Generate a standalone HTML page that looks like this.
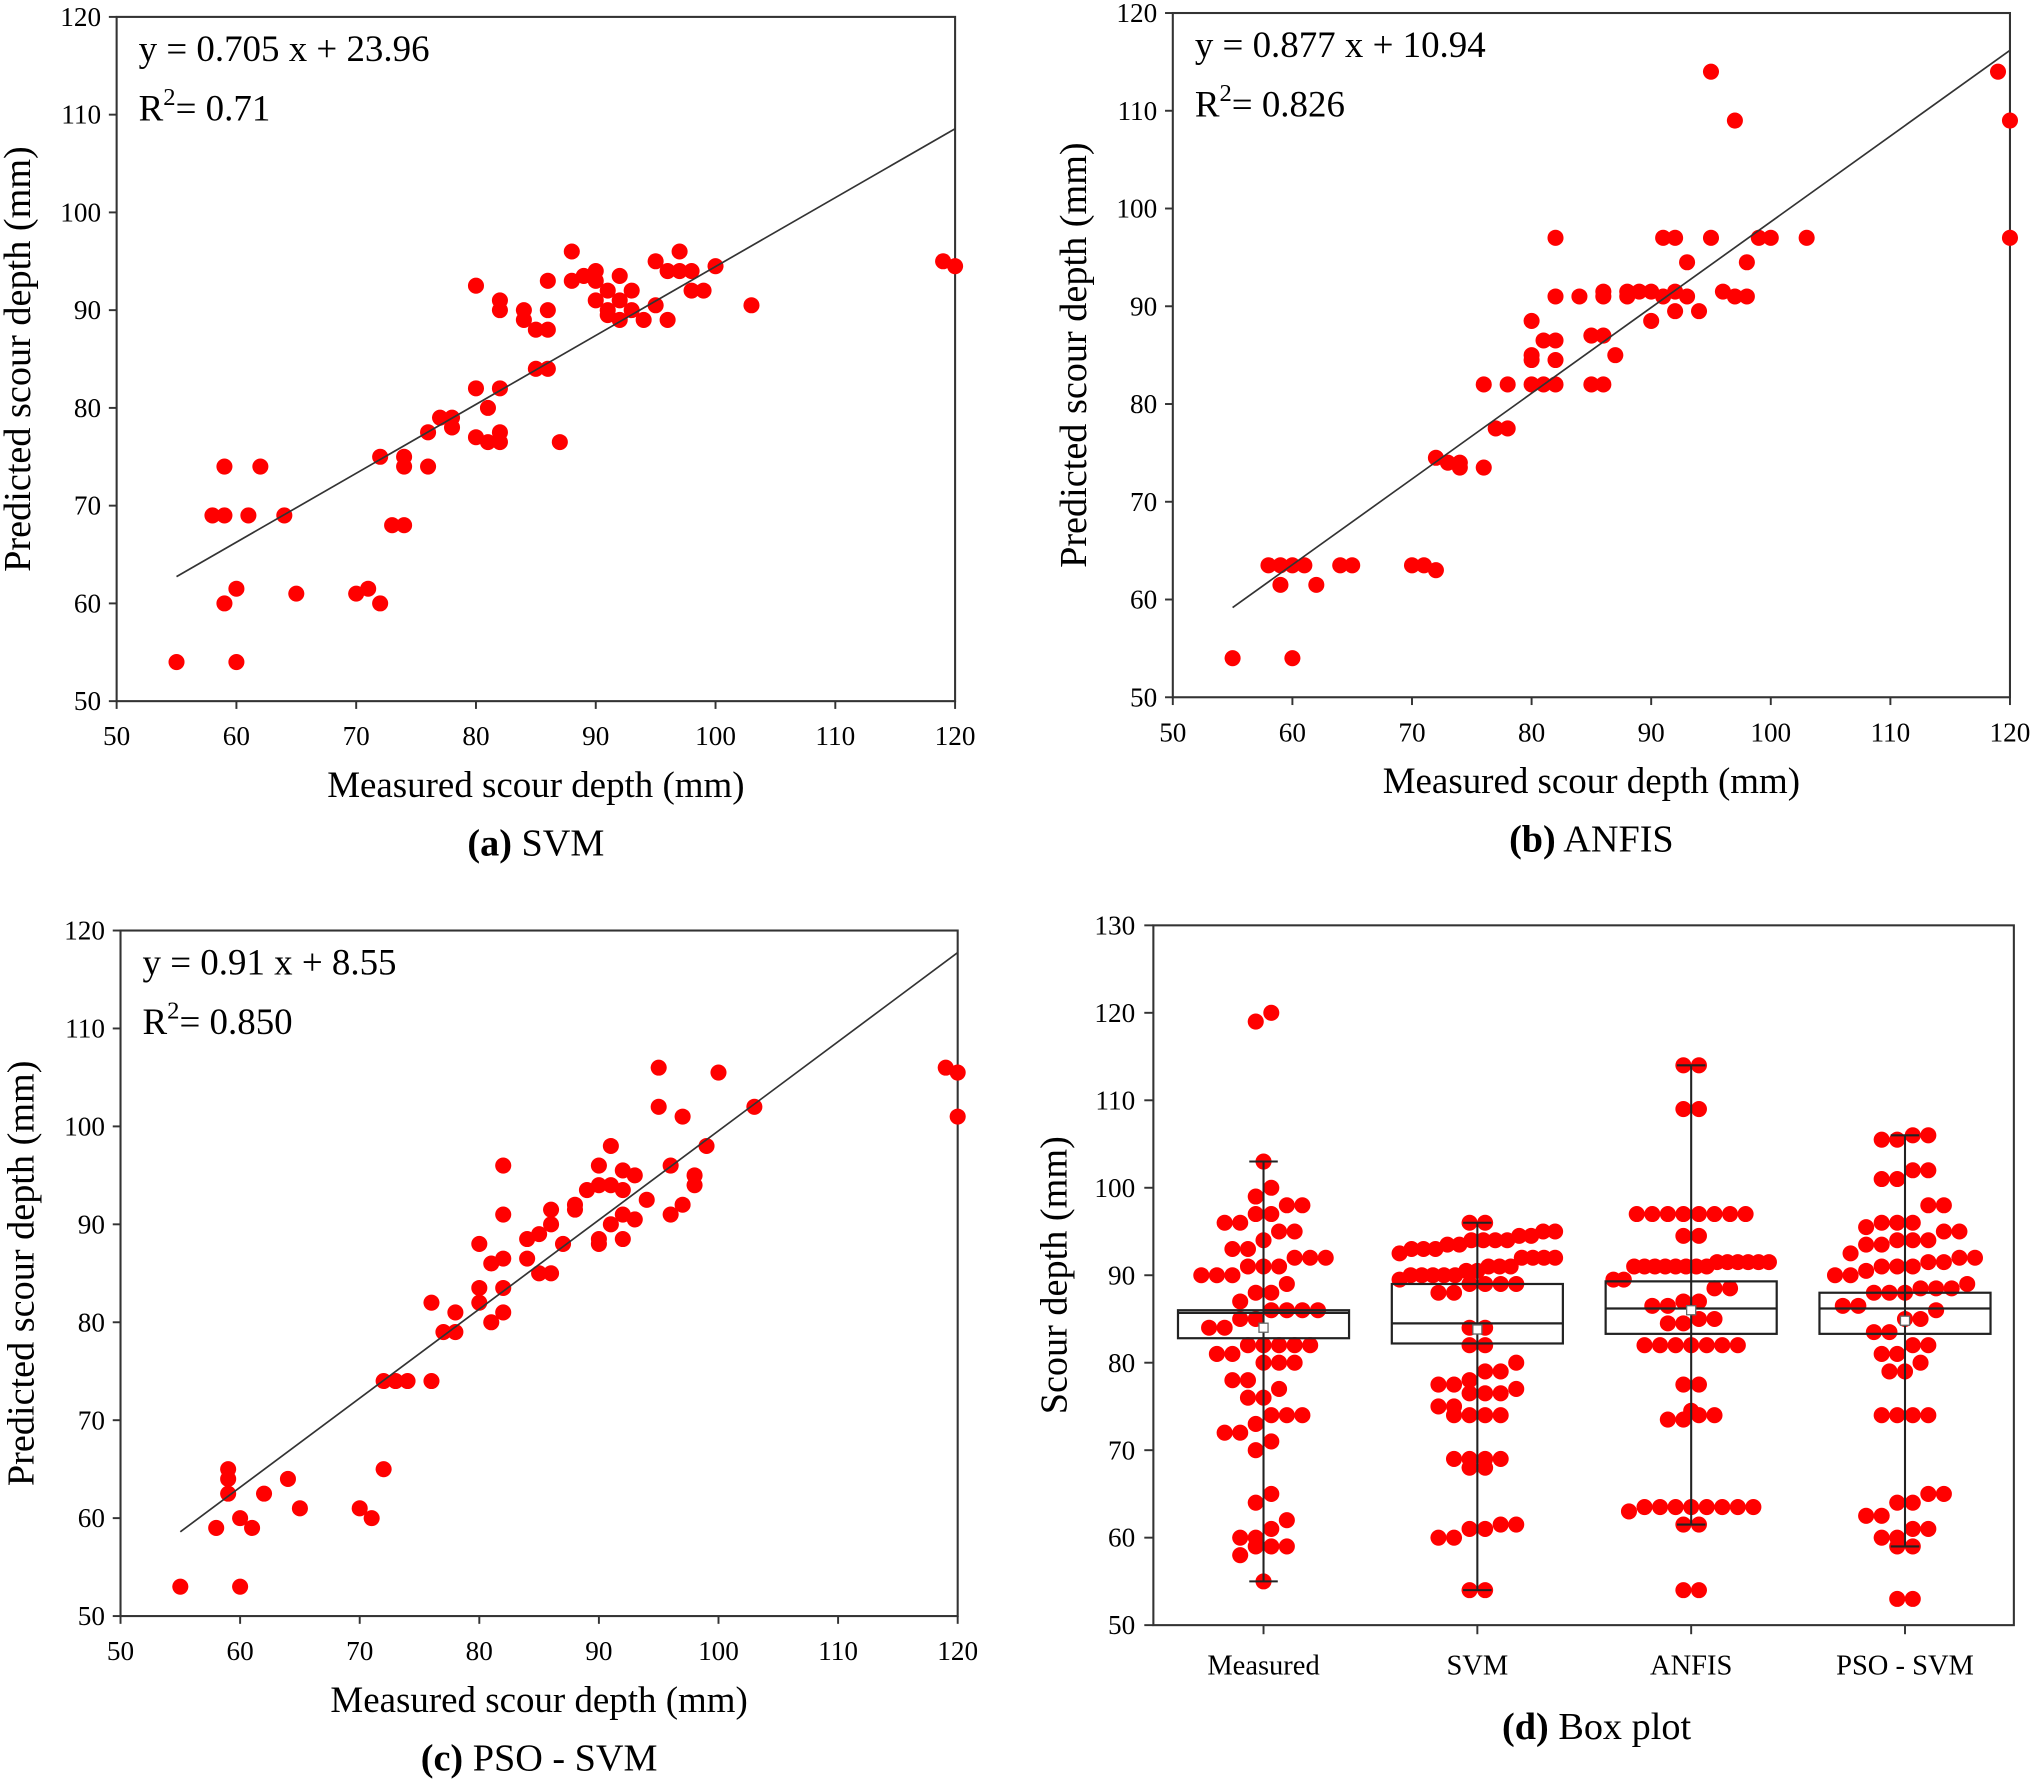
<!DOCTYPE html>
<html><head><meta charset="utf-8"><style>
html,body{margin:0;padding:0;background:#fff}
svg{display:block;font-family:"Liberation Serif",serif}
</style></head><body>
<svg id="s" xmlns="http://www.w3.org/2000/svg" width="2032" height="1782" viewBox="0 0 1568 1375"></svg>
<script>
const S=document.getElementById('s');let h='';
const R=6.2,RED='#ff0000';
function panel(o){
 const {x0,x1,y0,y1}=o;
 const X=v=>x0+(v-50)/70*(x1-x0), Y=v=>y1-(v-50)/70*(y1-y0);
 h+=`<rect x="${x0}" y="${y0}" width="${x1-x0}" height="${y1-y0}" fill="none" stroke="#333" stroke-width="1.6"/>`;
 for(let v=50;v<=120;v+=10){
  h+=`<line x1="${X(v)}" y1="${y1}" x2="${X(v)}" y2="${y1+6}" stroke="#333" stroke-width="1.5"/>`;
  h+=`<text x="${X(v)}" y="${y1+34}" font-size="21" text-anchor="middle">${v}</text>`;
  h+=`<line x1="${x0-6}" y1="${Y(v)}" x2="${x0}" y2="${Y(v)}" stroke="#333" stroke-width="1.5"/>`;
  h+=`<text x="${x0-12}" y="${Y(v)+7}" font-size="21" text-anchor="end">${v}</text>`;
 }
 for(const p of o.pts) h+=`<circle cx="${X(p[0])}" cy="${Y(p[1])}" r="${R}" fill="${RED}"/>`;
 const xe=Math.min(120,(120-o.b)/o.a);
 h+=`<line x1="${X(55)}" y1="${Y(o.a*55+o.b)}" x2="${X(xe)}" y2="${Y(o.a*xe+o.b)}" stroke="#333" stroke-width="1.3"/>`;
 h+=`<text x="${x0+17}" y="${y0+34}" font-size="28.5">${o.eq}</text>`;
 h+=`<text x="${x0+17}" y="${y0+80}" font-size="28.5">R<tspan dy="-12" font-size="19">2</tspan><tspan dy="12">= ${o.r2}</tspan></text>`;
 h+=`<text x="${(x0+x1)/2}" y="${y1+74}" font-size="28.5" text-anchor="middle">Measured scour depth (mm)</text>`;
 h+=`<text transform="translate(${x0-67},${(y0+y1)/2}) rotate(-90)" font-size="29.5" text-anchor="middle">Predicted scour depth (mm)</text>`;
 h+=`<text x="${(x0+x1)/2}" y="${y1+119}" font-size="29.5" text-anchor="middle"><tspan font-weight="bold">(${o.l})</tspan> ${o.cap}</text>`;
}
const A=[[55,54],[58,69],[59,74],[59,69],[59,60],[60,61.5],[60,54],[61,69],[62,74],[64,69],[65,61],[70,61],[71,61.5],[72,60],[72,75],[73,68],[74,68],[74,75],[74,74],[76,74],[76,77.5],[77,79],[78,79],[78,78],[80,82],[80,92.5],[80,77],[81,76.5],[81,80],[82,76.5],[82,77.5],[82,82],[82,90],[82,91],[84,90],[84,89],[85,88],[85,84],[86,84],[86,88],[86,90],[86,93],[87,76.5],[88,93],[88,96],[89,93.5],[90,94],[90,93],[90,91],[91,92],[91,89.5],[91,90],[92,93.5],[92,89],[92,91],[93,92],[93,90],[94,89],[95,90.5],[95,95],[96,94],[96,89],[97,94],[97,96],[98,94],[98,92],[99,92],[100,94.5],[103,90.5],[119,95],[120,94.5]];
const B=[[55,54],[58,63.5],[59,63.5],[59,61.5],[60,63.5],[60,54],[61,63.5],[62,61.5],[64,63.5],[65,63.5],[70,63.5],[71,63.5],[72,63],[72,74.5],[73,74],[74,74],[74,73.5],[76,73.5],[76,82],[77,77.5],[78,77.5],[78,82],[80,82],[80,84.5],[80,85],[80,88.5],[81,82],[81,86.5],[82,82],[82,84.5],[82,86.5],[82,91],[82,97],[84,91],[85,87],[85,82],[86,82],[86,87],[86,91],[86,91.5],[87,85],[88,91],[88,91.5],[89,91.5],[90,91.5],[90,88.5],[91,91],[91,97],[92,97],[92,91.5],[92,89.5],[93,91],[93,94.5],[94,89.5],[95,97],[95,114],[96,91.5],[97,91],[97,109],[98,91],[98,94.5],[99,97],[100,97],[103,97],[119,114],[120,109],[120,97]];
const C=[[55,53],[58,59],[59,65],[59,64],[59,62.5],[60,60],[60,53],[61,59],[62,62.5],[64,64],[65,61],[70,61],[71,60],[72,65],[72,74],[73,74],[74,74],[76,74],[76,82],[77,79],[78,79],[78,81],[80,82],[80,83.5],[80,88],[81,80],[81,86],[82,86.5],[82,81],[82,83.5],[82,91],[82,96],[84,86.5],[84,88.5],[85,85],[85,89],[86,85],[86,90],[86,91.5],[87,88],[88,91.5],[88,92],[89,93.5],[90,94],[90,88],[90,88.5],[90,96],[91,90],[91,98],[91,94],[92,95.5],[92,88.5],[92,91],[92,93.5],[93,90.5],[93,95],[94,92.5],[95,106],[95,102],[96,96],[96,91],[97,101],[97,92],[98,94],[98,95],[99,98],[100,105.5],[103,102],[119,106],[120,105.5],[120,101]];
panel({x0:90,x1:737,y0:13,y1:541,pts:A,a:0.705,b:23.96,eq:'y = 0.705 x + 23.96',r2:'0.71',l:'a',cap:'SVM'});
panel({x0:905,x1:1551,y0:10,y1:538,pts:B,a:0.877,b:10.94,eq:'y = 0.877 x + 10.94',r2:'0.826',l:'b',cap:'ANFIS'});
panel({x0:93,x1:739,y0:718,y1:1247,pts:C,a:0.91,b:8.55,eq:'y = 0.91 x + 8.55',r2:'0.850',l:'c',cap:'PSO - SVM'});
{const x0=890,x1=1554,y0=714,y1=1254;const Y=v=>y1-(v-50)/80*(y1-y0);
 h+=`<rect x="${x0}" y="${y0}" width="${x1-x0}" height="${y1-y0}" fill="none" stroke="#333" stroke-width="1.6"/>`;
 for(let v=50;v<=130;v+=10){h+=`<line x1="${x0-7}" y1="${Y(v)}" x2="${x0}" y2="${Y(v)}" stroke="#333" stroke-width="1.5"/>`;
  h+=`<text x="${x0-14}" y="${Y(v)+7}" font-size="21" text-anchor="end">${v}</text>`;}
 const cats=[['Measured',975,A.map(p=>p[0]),[55,82.8,85.7,86,103],84],['SVM',1140,A.map(p=>p[1]),[54,82.2,84.5,89,96],83.8],['ANFIS',1305,B.map(p=>p[1]),[61.5,83.3,86.2,89.3,114],86],['PSO - SVM',1470,C.map(p=>p[1]),[59,83.3,86.2,88,106],84.8]];
 for(const [nm,cx,vals,q,mn] of cats){
  h+=`<line x1="${cx}" y1="${y1}" x2="${cx}" y2="${y1+7}" stroke="#333" stroke-width="1.5"/>`;
  h+=`<text x="${cx}" y="${y1+38}" font-size="22" text-anchor="middle">${nm}</text>`;
  const bins={};for(const v of vals){const k=Math.round(Y(v)/20);(bins[k]=bins[k]||[]).push(v);}
  for(const k in bins){const arr=bins[k].slice().sort((a,b)=>a-b);const n=arr.length;
   const sp=Math.min(12,120/Math.max(1,n-1));
   arr.forEach((v,i)=>{const off=(i-(n-1)/2)*sp*(i%2?1:1);
   h+=`<circle cx="${cx+off}" cy="${Y(v)}" r="${R}" fill="${RED}"/>`;});}
  h+=`<line x1="${cx}" y1="${Y(q[0])}" x2="${cx}" y2="${Y(q[4])}" stroke="#222" stroke-width="1.6"/>`;
  h+=`<line x1="${cx-11}" y1="${Y(q[0])}" x2="${cx+11}" y2="${Y(q[0])}" stroke="#222" stroke-width="1.6"/><line x1="${cx-11}" y1="${Y(q[4])}" x2="${cx+11}" y2="${Y(q[4])}" stroke="#222" stroke-width="1.6"/>`;
  h+=`<rect x="${cx-66}" y="${Y(q[3])}" width="132" height="${Y(q[1])-Y(q[3])}" fill="none" stroke="#222" stroke-width="1.7"/>`;
  h+=`<line x1="${cx-66}" y1="${Y(q[2])}" x2="${cx+66}" y2="${Y(q[2])}" stroke="#222" stroke-width="1.7"/>`;
  h+=`<rect x="${cx-3.5}" y="${Y(mn)-3.5}" width="7" height="7" fill="#fff" stroke="#666" stroke-width="1"/>`;
 }
 h+=`<text transform="translate(823,${(y0+y1)/2}) rotate(-90)" font-size="29.5" text-anchor="middle">Scour depth (mm)</text>`;
 h+=`<text x="1232" y="1342" font-size="29.5" text-anchor="middle"><tspan font-weight="bold">(d)</tspan> Box plot</text>`;
}
S.innerHTML=h;
</script>
</body></html>
